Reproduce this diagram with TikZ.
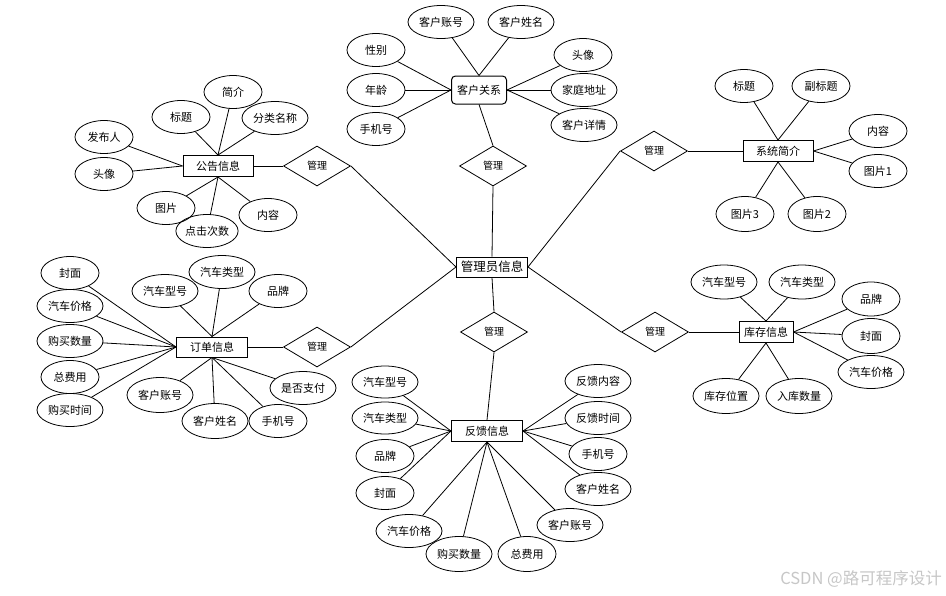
\documentclass[tikz,border=0pt]{standalone}
\usepackage{fontspec}
\setmainfont{Noto Sans CJK SC}
\usetikzlibrary{shapes.geometric}
\tikzset{
  attr/.style={ellipse, draw, line width=0.8pt, minimum width=58pt, minimum height=33pt, inner sep=0pt, font=\fontsize{11}{13}\selectfont},
  wattr/.style={attr, minimum width=66pt},
  ent/.style={rectangle, draw, line width=1pt, minimum width=70pt, minimum height=21pt, inner sep=0pt, font=\fontsize{11}{13}\selectfont},
  rel/.style={diamond, draw, line width=0.8pt, minimum width=67pt, minimum height=40pt, inner sep=0pt, font=\fontsize{10}{12}\selectfont},
  link/.style={line width=0.8pt}
}
\begin{document}
\begin{tikzpicture}[x=1pt,y=-1pt]
\path[use as bounding box, fill=white] (0,0) rectangle (946,595);

% central
\node[ent, minimum width=71pt, minimum height=20pt, font=\fontsize{12.5}{14}\selectfont] (adm) at (492,267) {管理员信息};

% relations
\node[rel] (r1) at (493,166) {管理};
\node[rel] (r2) at (494,332) {管理};
\node[rel] (r3) at (317,166) {管理};
\node[rel] (r4) at (317,347) {管理};
\node[rel] (r5) at (654,151) {管理};
\node[rel] (r6) at (655,332) {管理};

% entities
\node[ent, minimum width=55pt, minimum height=28pt, rounded corners=4pt] (kh) at (479,90) {客户关系};
\node[ent] (gg) at (218,166) {公告信息};
\node[ent, minimum width=71pt, minimum height=20pt] (dd) at (212,347) {订单信息};
\node[ent, minimum width=71pt] (fk) at (487,431) {反馈信息};
\node[ent] (xt) at (778,151) {系统简介};
\node[ent, minimum width=54pt] (kc) at (766,332) {库存信息};

% 客户关系 attributes
\node[wattr] (k1) at (441,22) {客户账号};
\node[wattr] (k2) at (521,22) {客户姓名};
\node[attr] (k3) at (376,50) {性别};
\node[attr] (k4) at (376,90) {年龄};
\node[attr] (k5) at (376,129) {手机号};
\node[attr] (k6) at (583,55) {头像};
\node[wattr] (k7) at (584,90) {家庭地址};
\node[wattr] (k8) at (584,125) {客户详情};

% 公告信息 attributes
\node[attr] (g1) at (233,92) {简介};
\node[attr] (g2) at (181,117) {标题};
\node[wattr] (g3) at (275,118) {分类名称};
\node[attr] (g4) at (104,137) {发布人};
\node[attr] (g5) at (104,174) {头像};
\node[attr] (g6) at (166,208) {图片};
\node[attr] (g7) at (207,231) {点击次数};
\node[attr] (g8) at (268,215) {内容};

% 订单信息 attributes
\node[attr] (d1) at (70,273) {封面};
\node[wattr] (d2) at (70,306) {汽车价格};
\node[wattr] (d3) at (70,341) {购买数量};
\node[attr] (d4) at (70,377) {总费用};
\node[wattr] (d5) at (70,410) {购买时间};
\node[wattr] (d6) at (165,291) {汽车型号};
\node[wattr] (d7) at (222,272) {汽车类型};
\node[attr] (d8) at (278,291) {品牌};
\node[wattr, minimum height=35pt] (d9) at (160,395) {客户账号};
\node[wattr, minimum height=35pt] (d10) at (215,421) {客户姓名};
\node[attr] (d11) at (278,421) {手机号};
\node[wattr] (d12) at (303,388) {是否支付};

% 反馈信息 attributes
\node[wattr, minimum height=32pt] (f1) at (385,382) {汽车型号};
\node[wattr, minimum height=32pt] (f2) at (385,418) {汽车类型};
\node[attr] (f3) at (385,456) {品牌};
\node[attr] (f4) at (385,493) {封面};
\node[wattr] (f5) at (409,531) {汽车价格};
\node[wattr, minimum height=35pt] (f6) at (459,554) {购买数量};
\node[attr, minimum height=35pt] (f7) at (527,554) {总费用};
\node[wattr] (f8) at (570,525) {客户账号};
\node[wattr] (f9) at (598,489) {客户姓名};
\node[attr] (f10) at (598,454) {手机号};
\node[wattr] (f11) at (598,418) {反馈时间};
\node[wattr] (f12) at (598,381) {反馈内容};

% 系统简介 attributes
\node[attr] (x1) at (744,86) {标题};
\node[attr] (x2) at (821,86) {副标题};
\node[attr] (x3) at (878,131) {内容};
\node[attr] (x4) at (878,171) {图片1};
\node[attr, minimum height=35pt] (x5) at (745,214) {图片3};
\node[attr, minimum height=35pt] (x6) at (817,214) {图片2};

% 库存信息 attributes
\node[wattr, minimum height=34pt] (c1) at (724,282) {汽车型号};
\node[wattr, minimum height=34pt] (c2) at (802,282) {汽车类型};
\node[attr, minimum height=34pt] (c3) at (871,299) {品牌};
\node[attr, minimum height=35pt] (c4) at (871,336) {封面};
\node[wattr] (c5) at (871,372) {汽车价格};
\node[wattr, minimum height=35pt] (c6) at (726,396) {库存位置};
\node[wattr, minimum height=35pt] (c7) at (799,396) {入库数量};

% watermark
\node[text=black!22, font=\fontsize{16.5}{18}\selectfont, anchor=east, inner sep=0pt] (wm) at (942,579) {CSDN @路可程序设计};

% relation links
\draw[link] (kh.south) -- (r1.north);
\draw[link] (r1.south) -- (adm.north);
\draw[link] (adm.south) -- (r2.north);
\draw[link] (r2.south) -- (fk.north);
\draw[link] (gg.east) -- (r3.west);
\draw[link] (r3.east) -- (adm.west);
\draw[link] (dd.east) -- (r4.west);
\draw[link] (r4.east) -- (adm.west);
\draw[link] (xt.west) -- (r5.east);
\draw[link] (r5.west) -- (adm.east);
\draw[link] (kc.west) -- (r6.east);
\draw[link] (r6.west) -- (adm.east);

% 客户关系 links
\foreach \n in {k1,k2} \draw[link] (\n) -- (kh.north);
\foreach \n in {k3,k4,k5} \draw[link] (\n) -- (kh.west);
\foreach \n in {k6,k7,k8} \draw[link] (\n) -- (kh.east);

% 公告信息 links
\foreach \n in {g1,g2,g3} \draw[link] (\n) -- (gg.north);
\foreach \n in {g4,g5} \draw[link] (\n) -- (gg.west);
\foreach \n in {g6,g7,g8} \draw[link] (\n) -- (gg.south);

% 订单信息 links
\foreach \n in {d1,d2,d3,d4,d5} \draw[link] (\n) -- (dd.west);
\foreach \n in {d6,d7,d8} \draw[link] (\n) -- (dd.north);
\foreach \n in {d9,d10,d11,d12} \draw[link] (\n) -- (dd.south);

% 反馈信息 links
\foreach \n in {f1,f2,f3,f4} \draw[link] (\n) -- (fk.west);
\foreach \n in {f5,f6,f7,f8} \draw[link] (\n) -- (fk.south);
\foreach \n in {f9,f10,f11,f12} \draw[link] (\n) -- (fk.east);

% 系统简介 links
\foreach \n in {x1,x2} \draw[link] (\n) -- (xt.north);
\foreach \n in {x3,x4} \draw[link] (\n) -- (xt.east);
\foreach \n in {x5,x6} \draw[link] (\n) -- (xt.south);

% 库存信息 links
\foreach \n in {c1,c2} \draw[link] (\n) -- (kc.north);
\foreach \n in {c3,c4,c5} \draw[link] (\n) -- (kc.east);
\foreach \n in {c6,c7} \draw[link] (\n) -- (kc.south);
\end{tikzpicture}
\end{document}
